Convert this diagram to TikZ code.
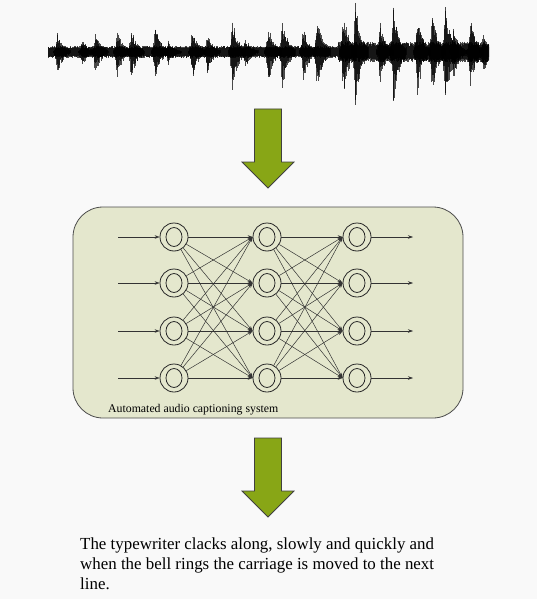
\documentclass[tikz,border=0pt]{standalone}
\usepackage{fontspec}
\setmainfont{Liberation Serif}
\usetikzlibrary{arrows.meta}

\definecolor{bgcol}{RGB}{249,249,249}
\definecolor{boxcol}{RGB}{228,231,205}
\definecolor{olive}{RGB}{136,166,22}

\tikzstyle{wave} = [draw=black,line width=0.6pt,opacity=0.7]
\tikzstyle{neuron} = [circle,draw=black!85,line width=0.8pt,minimum size=28pt,inner sep=0pt,
	path picture={\draw[black!85,line width=0.8pt] (path picture bounding box.center) ellipse (8pt and 9.5pt);}]
\tikzstyle{link} = [draw=black!80,line width=0.5pt,-{Stealth[length=5pt,width=3.5pt]}]
\tikzstyle{bigarrow} = [fill=olive,draw=black!75,line width=0.8pt,line join=miter]
\tikzstyle{sysbox} = [draw=black!70,fill=boxcol,line width=0.8pt,rounded corners=30pt,
	minimum width=390pt,minimum height=211pt]

\begin{document}
\begin{tikzpicture}[x=1pt,y=-1pt]
	\fill[bgcol] (0,0) rectangle (537,599);
	\useasboundingbox (0,0) rectangle (537,599);

	% waveform
	\begin{scope}
	\clip (47,0) rectangle (489,105);
	\pgfmathsetseed{11}
	\foreach \x in {48,48.5,...,488}{
		\pgfmathsetmacro\b{ifthenelse(\x<338,4.5,9)}
		\pgfmathsetmacro\up{\b*(0.5+0.5*rnd)+1.5}
		\pgfmathsetmacro\dn{\b*(0.5+0.5*rnd)+1.5}
		\draw[wave] (\x,52-\up) -- (\x,52+\dn);
	}
	\foreach \c/\h in {57/20,82/13,95/20,117/22,131/25,155/26,168/12,192/24,207/19,
		232/34,245/15,268/27,282/34,303/27,317/37,343/42,355/50,380/30,393/49,
		417/37,432/40,445/49,453/25,470/34,483/19}{
		\foreach \k in {0,...,34}{
			\pgfmathsetmacro\dx{\k*0.5-4}
			\pgfmathsetmacro\env{\h*ifthenelse(\dx<0,exp(\dx/1.5),exp(-\dx/6))}
			\pgfmathsetmacro\up{\env*(0.5+0.5*rnd)}
			\pgfmathsetmacro\dn{\env*(0.5+0.7*rnd)}
			\draw[wave] (\c+\dx,52-\up) -- (\c+\dx,52+\dn);
		}
	}
	\end{scope}

	% first arrow
	\draw[bigarrow] (254.5,109) -- (281.5,109) -- (281.5,162) -- (294,162) -- (268,188)
		-- (242,162) -- (254.5,162) -- cycle;

	% system box
	\node[sysbox] (sys) at (268,312.5) {};
	\node[anchor=base west,inner sep=0pt,font=\fontsize{11.8}{14}\selectfont] (syslabel) at (108,412)
		{Automated audio captioning system};

	\node[neuron] (n11) at (174,237) {};
	\node[neuron] (n12) at (174,283) {};
	\node[neuron] (n13) at (174,331) {};
	\node[neuron] (n14) at (174,378) {};
	\node[neuron] (n21) at (267,237) {};
	\node[neuron] (n22) at (267,283) {};
	\node[neuron] (n23) at (267,331) {};
	\node[neuron] (n24) at (267,378) {};
	\node[neuron] (n31) at (357,237) {};
	\node[neuron] (n32) at (357,283) {};
	\node[neuron] (n33) at (357,331) {};
	\node[neuron] (n34) at (357,378) {};

	\coordinate (in1) at (118,237);
	\coordinate (in2) at (118,283);
	\coordinate (in3) at (118,331);
	\coordinate (in4) at (118,378);
	\coordinate (out1) at (413,237);
	\coordinate (out2) at (413,283);
	\coordinate (out3) at (413,331);
	\coordinate (out4) at (413,378);

	\foreach \i in {1,...,4}{
		\draw[link] (in\i) -- (n1\i.west);
		\draw[link] (n3\i.east) -- (out\i);
		\foreach \j in {1,...,4}{
			\draw[link] (n1\i) -- (n2\j.west);
			\draw[link] (n2\i) -- (n3\j.west);
		}
	}

	% second arrow
	\draw[bigarrow] (254.5,438) -- (281.5,438) -- (281.5,491) -- (294,491) -- (268,517)
		-- (242,491) -- (254.5,491) -- cycle;

	% caption
	\node[anchor=north west,inner sep=0pt,align=left,font=\fontsize{16.9}{20}\selectfont] (caption) at (80,538)
		{The typewriter clacks along, slowly and quickly and\\
		when the bell rings the carriage is moved to the next\\
		line.};
\end{tikzpicture}
\end{document}
